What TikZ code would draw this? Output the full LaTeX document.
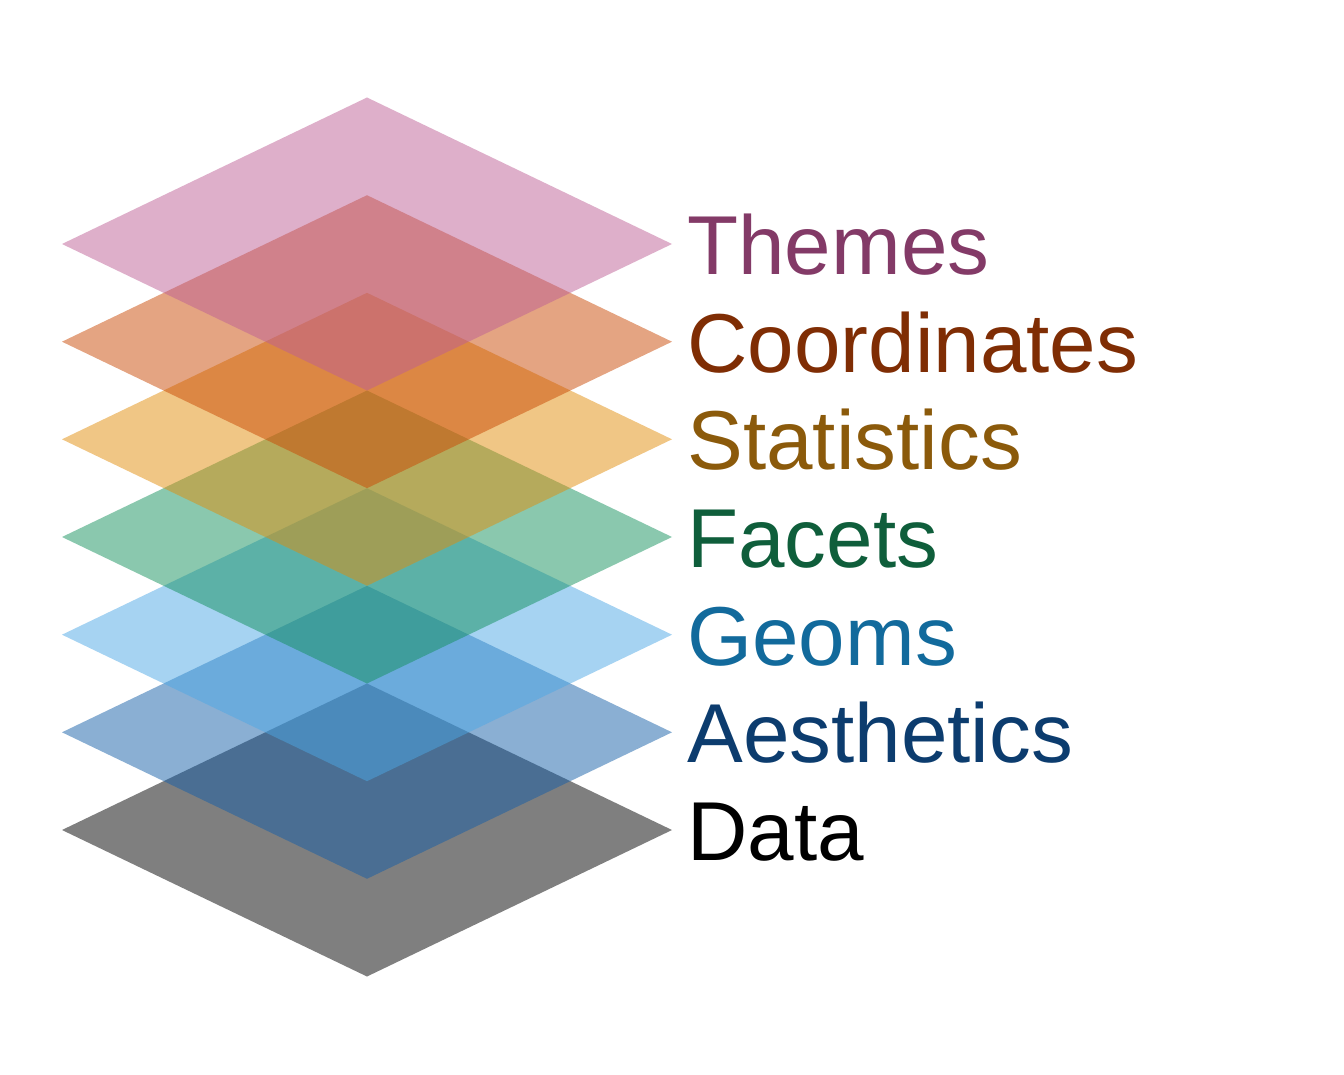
\documentclass[tikz,border=0pt]{standalone}
\usepackage{fontspec}
\setmainfont{Liberation Sans}
\usetikzlibrary{positioning}

\definecolor{cData}{HTML}{000000}
\definecolor{cAes}{HTML}{155FA7}
\definecolor{cGeom}{HTML}{4DA7E5}
\definecolor{cFacet}{HTML}{15915D}
\definecolor{cStat}{HTML}{E18D0B}
\definecolor{cCoord}{HTML}{C94905}
\definecolor{cTheme}{HTML}{BD5F95}

\definecolor{tData}{HTML}{000000}
\definecolor{tAes}{HTML}{0C3C6E}
\definecolor{tGeom}{HTML}{126A9C}
\definecolor{tFacet}{HTML}{0F5E3B}
\definecolor{tStat}{HTML}{8B5A0B}
\definecolor{tCoord}{HTML}{7F2D04}
\definecolor{tTheme}{HTML}{833A67}

\tikzset{
  layer/.style={fill=#1,fill opacity=0.5,draw=none},
  lbl/.style={anchor=base west,inner sep=0pt,text=#1,font=\fontsize{41.8}{50}\selectfont}
}

\begin{document}
\begin{tikzpicture}[x=0.5pt,y=-0.5pt]
      \useasboundingbox (0,0) rectangle (1344,1075);

      % layers, bottom to top
      \fill[layer=cData]  (62,830)   -- ++(305,-146.5) -- ++(305,146.5) -- ++(-305,146.5) -- cycle;
      \fill[layer=cAes]   (62,732.3) -- ++(305,-146.5) -- ++(305,146.5) -- ++(-305,146.5) -- cycle;
      \fill[layer=cGeom]  (62,634.7) -- ++(305,-146.5) -- ++(305,146.5) -- ++(-305,146.5) -- cycle;
      \fill[layer=cFacet] (62,537)   -- ++(305,-146.5) -- ++(305,146.5) -- ++(-305,146.5) -- cycle;
      \fill[layer=cStat]  (62,439.3) -- ++(305,-146.5) -- ++(305,146.5) -- ++(-305,146.5) -- cycle;
      \fill[layer=cCoord] (62,341.7) -- ++(305,-146.5) -- ++(305,146.5) -- ++(-305,146.5) -- cycle;
      \fill[layer=cTheme] (62,244)   -- ++(305,-146.5) -- ++(305,146.5) -- ++(-305,146.5) -- cycle;

      % labels
      \node[lbl=tData]  (data)   at (687,860.5) {Data};
      \node[lbl=tAes]   (aes)    at (687,762.8) {Aesthetics};
      \node[lbl=tGeom]  (geoms)  at (687,665.2) {Geoms};
      \node[lbl=tFacet] (facets) at (687,567.5) {Facets};
      \node[lbl=tStat]  (stats)  at (687,469.8) {Statistics};
      \node[lbl=tCoord] (coords) at (687,372.2) {Coordinates};
      \node[lbl=tTheme] (themes) at (687,274.5) {Themes};
\end{tikzpicture}
\end{document}
